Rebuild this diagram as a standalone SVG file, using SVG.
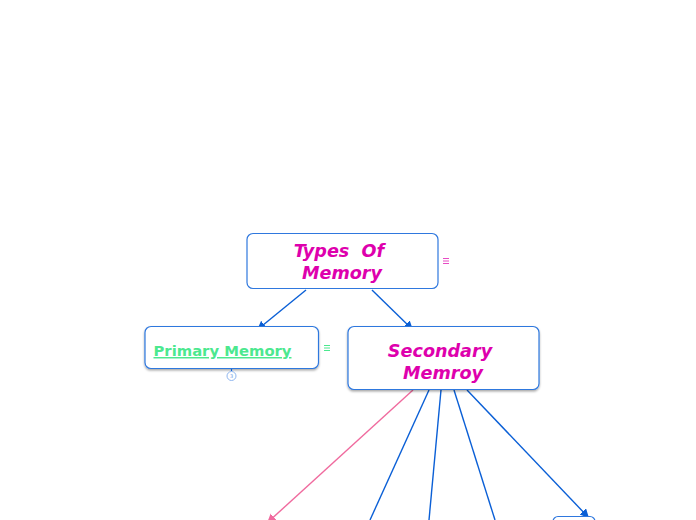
<svg xmlns="http://www.w3.org/2000/svg" width="696" height="520" viewBox="0 0 696 520">
<defs>
<marker id="ab" markerUnits="userSpaceOnUse" markerWidth="12" markerHeight="12" refX="9" refY="4.500" orient="auto"><path d="M0 0L9 4.500L0 9Z" fill="#0a5fd6"/></marker>
<marker id="ap" markerUnits="userSpaceOnUse" markerWidth="12" markerHeight="12" refX="9" refY="4.500" orient="auto"><path d="M0 0L9 4.500L0 9Z" fill="#f06a9e"/></marker>
<filter id="sh" x="-5%" y="-10%" width="110%" height="125%"><feDropShadow dx="0" dy="1.5" stdDeviation="1" flood-color="#000" flood-opacity="0.35"/></filter>
</defs>
<style>
.box{fill:#fff;stroke:#2f78de;stroke-width:1.2}
.t{font-family:"DejaVu Sans",Verdana,sans-serif;font-weight:700;font-style:italic;font-size:17.6px;fill:#de00ad;text-anchor:middle;white-space:pre}
.c{fill:none;stroke:#0a5fd6;stroke-width:1.4}
.m{stroke-width:1;fill:none}
</style>
<g id="connectors">
<path class="c" d="M306 290L257 330" marker-end="url(#ab)"/>
<path class="c" d="M372 290L413 330" marker-end="url(#ab)"/>
<path d="M413 390L267 523" fill="none" stroke="#f06a9e" stroke-width="1.4" marker-end="url(#ap)"/>
<path class="c" d="M429 390L370 520"/>
<path class="c" d="M441 390L429 520"/>
<path class="c" d="M454 390L495 520"/>
<path class="c" d="M467 390L589 518" marker-end="url(#ab)"/>
</g>
<g id="node-types">
<rect class="box" x="247" y="233.500" width="191" height="55" rx="6"/>
<text class="t" x="339" y="257" xml:space="preserve">Types  Of</text>
<text class="t" x="342" y="279">Memory</text>
<path class="m" stroke="#de00ad" stroke-opacity="0.7" d="M443 258.500h6M443 261h6M443 263.500h6"/>
</g>
<g id="node-primary">
<rect class="box" x="145" y="326.500" width="173.500" height="42" rx="6" filter="url(#sh)"/>
<text x="153.500" y="356" font-family="'DejaVu Sans',Verdana,sans-serif" font-weight="700" font-size="14.800" fill="#4ce88f" text-decoration="underline">Primary Memory</text>
<path class="m" stroke="#4ce88f" d="M324 345.500h6M324 348h6M324 350.500h6"/>
<path d="M231.500 369v2" stroke="#0a5fd6" stroke-width="1.2"/>
<circle cx="231.500" cy="376" r="4.500" fill="#fff" stroke="#8fb6f0" stroke-width="1"/>
<text x="231.500" y="378" font-family="'DejaVu Sans',sans-serif" font-size="5" fill="#6f9fe8" text-anchor="middle">3</text>
</g>
<g id="node-secondary">
<rect class="box" x="348" y="326.500" width="191" height="63" rx="6" filter="url(#sh)"/>
<text class="t" x="440" y="357">Secondary</text>
<text class="t" x="443" y="379">Memroy</text>
</g>
<g id="node-child">
<rect class="box" x="553" y="516.500" width="42" height="20" rx="5"/>
</g>
</svg>
